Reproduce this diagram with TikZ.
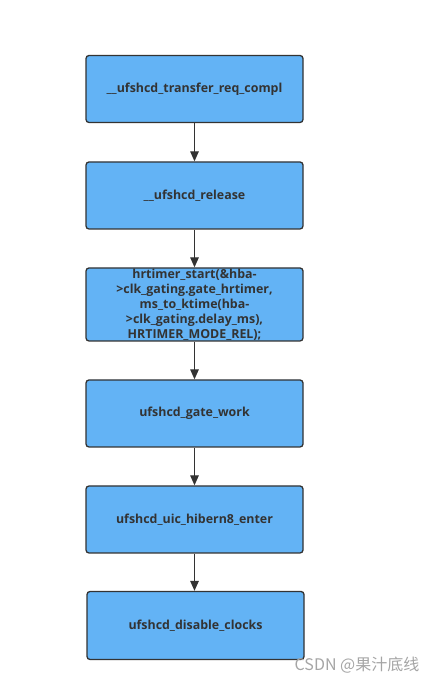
\documentclass[tikz,border=0pt]{standalone}
\usepackage{fontspec}
\setmainfont{Open Sans}[BoldFont={Open Sans Bold}]
\newfontfamily\cjkfont{Noto Sans CJK SC}
\usetikzlibrary{arrows.meta}
\definecolor{boxfill}{RGB}{99,179,245}
\definecolor{edge}{RGB}{51,51,51}
\definecolor{wm}{RGB}{165,165,165}
\begin{document}
\begin{tikzpicture}[x=1pt,y=1pt,
  fbox/.style={draw=edge,line width=1.3pt,fill=boxfill,rounded corners=3pt,
    minimum width=217pt,minimum height=67pt,inner sep=0pt,
    font=\fontsize{12.4}{15}\selectfont\bfseries,text=edge,align=center},
  conn/.style={draw=edge,line width=1.3pt,-{Triangle[length=10pt,width=8.5pt]}}]
\useasboundingbox (0,0) rectangle (441,684);
\node[fbox] (a) at (194.5,595) {\_\_ufshcd\_transfer\_req\_compl};
\node[fbox] (b) at (194.5,488.5) {\_\_ufshcd\_release};
\node[fbox,minimum height=73pt,text width=190pt] (c) at (194.5,379.5) {hrtimer\_start(\&hba-\\>clk\_gating.gate\_hrtimer,\\ ms\_to\_ktime(hba-\\>clk\_gating.delay\_ms),\\HRTIMER\_MODE\_REL);};
\node[fbox] (d) at (194.5,270.5) {ufshcd\_gate\_work};
\node[fbox] (e) at (194.5,164.5) {ufshcd\_uic\_hibern8\_enter};
\node[fbox,minimum height=68pt] (f) at (195.5,58.5) {ufshcd\_disable\_clocks};
\draw[conn] (a.south) -- (b.north);
\draw[conn] (b.south) -- (c.north);
\draw[conn] (c.south) -- (d.north);
\draw[conn] (d.south) -- (e.north);
\draw[conn] (e.south) -- (e.south |- f.north);
\node[text=wm,font=\cjkfont\fontsize{16}{18}\selectfont,inner sep=0pt] (w) at (357,19) {CSDN @果汁底线};
\end{tikzpicture}
\end{document}
